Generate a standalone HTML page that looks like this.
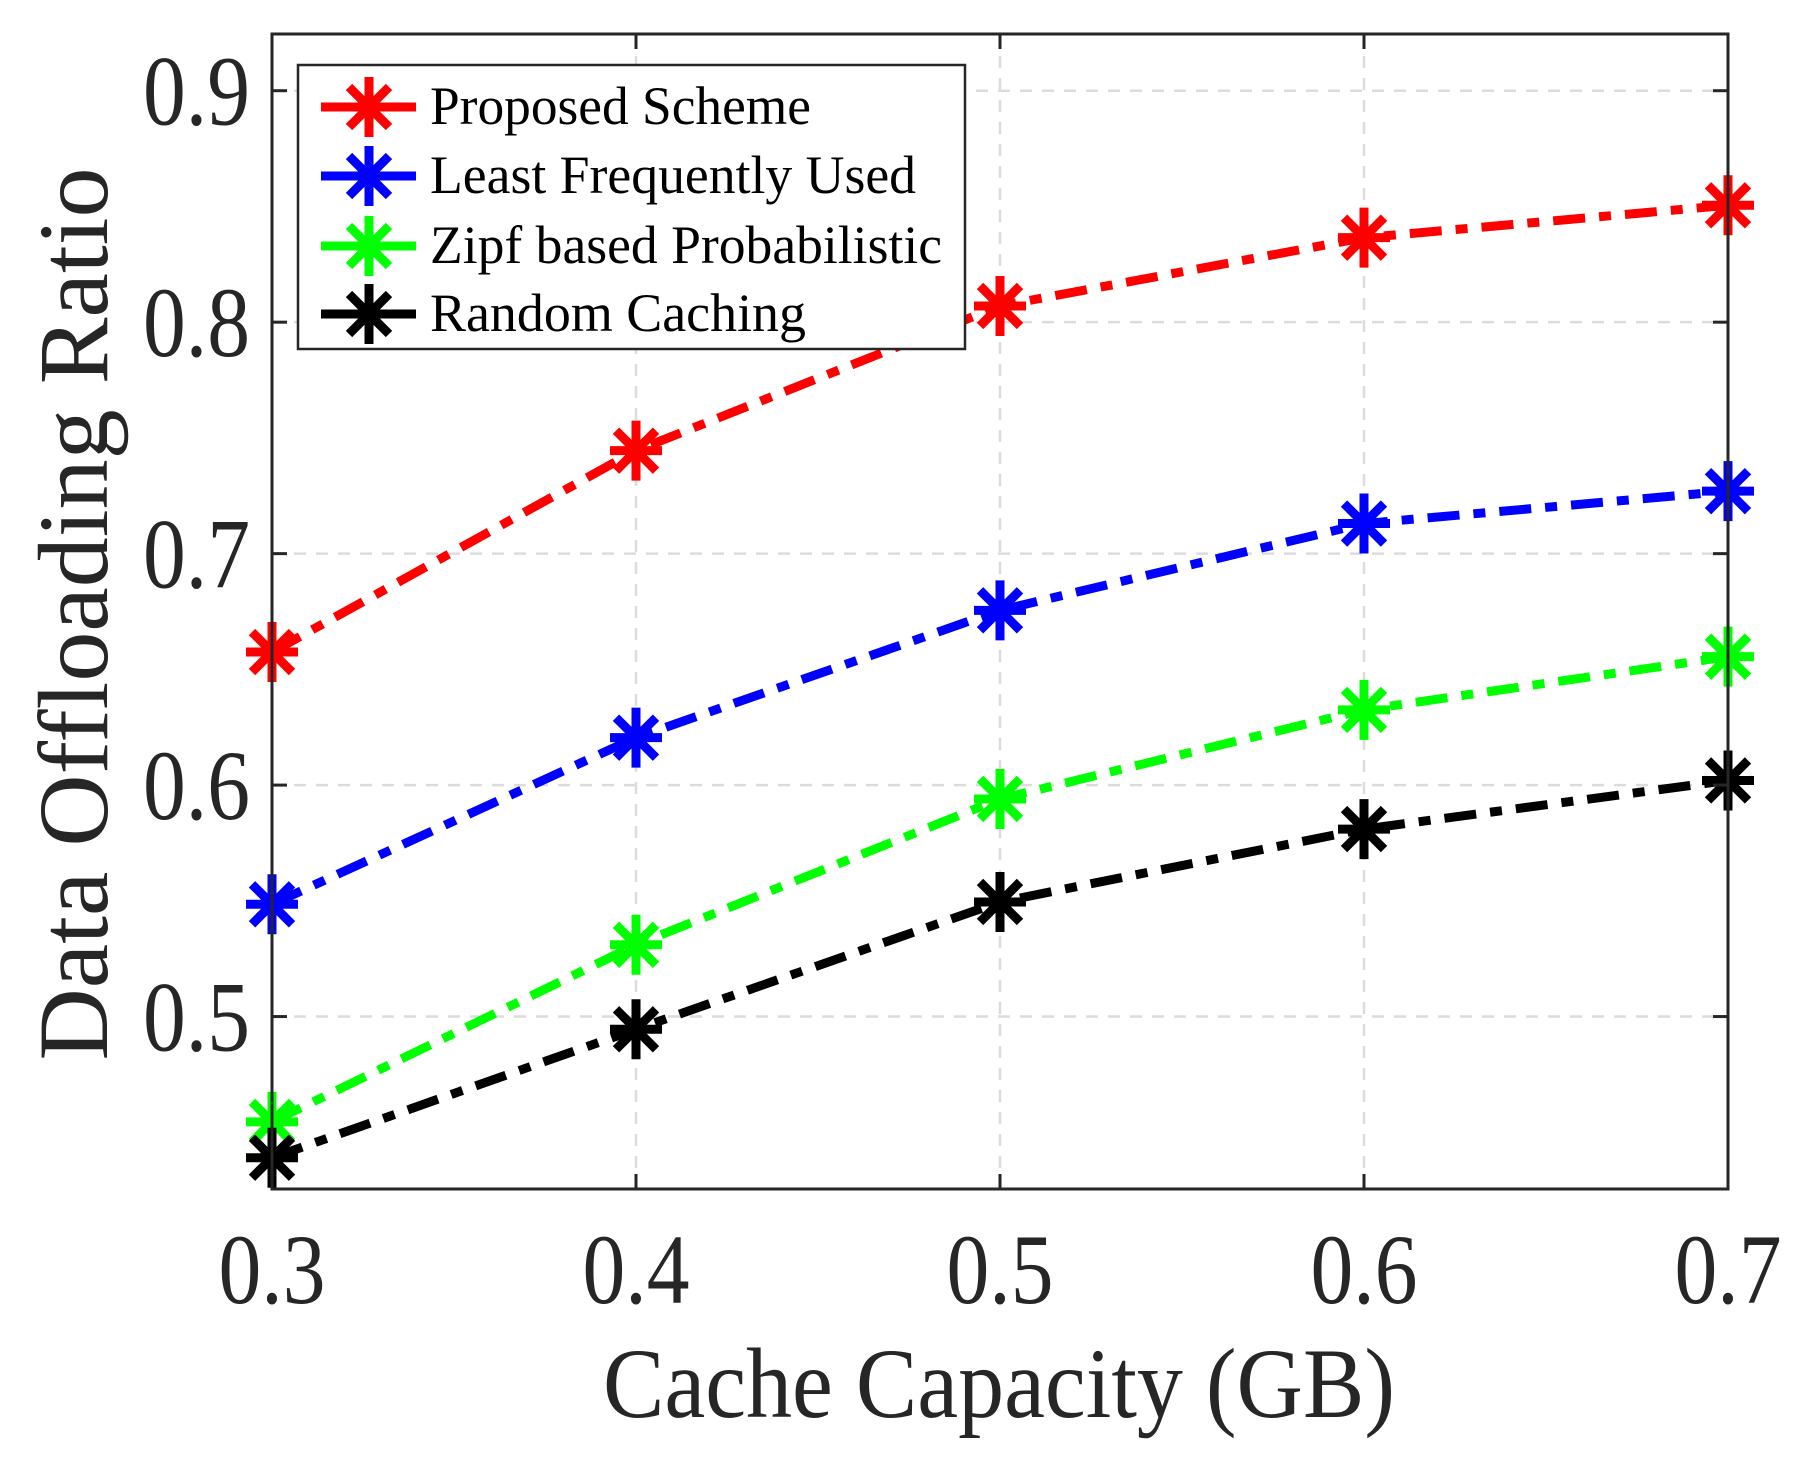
<!DOCTYPE html>
<html><head><meta charset="utf-8"><style>
html,body{margin:0;padding:0;background:#fff;}
svg{display:block;}
text{font-family:"Liberation Serif","Times New Roman",serif;fill:#262626;}
</style></head><body>
<svg id="chart" width="1812" height="1470" viewBox="0 0 1812 1470" xmlns="http://www.w3.org/2000/svg">
<g id="grid"></g>
<g id="series"></g>
<rect x="272" y="34" width="1456" height="1155" fill="none" stroke="#262626" stroke-width="3"/>
<g id="ticks"></g>
<text x="81" y="614" font-size="100" text-anchor="middle" transform="rotate(-90 81 614)" dy="26" textLength="893" lengthAdjust="spacingAndGlyphs">Data Offloading Ratio</text>
<text x="999" y="1417" font-size="100" text-anchor="middle" textLength="792" lengthAdjust="spacingAndGlyphs">Cache Capacity (GB)</text>
<g id="legend">
<rect x="298" y="65" width="667" height="284" fill="#fff" stroke="#262626" stroke-width="2.5"/>
</g>
</svg>
<script>
const categories=[0.3,0.4,0.5,0.6,0.7];
const proposed=[0.6575,0.7445,0.807,0.8365,0.8505];
const lfu=[0.5485,0.6205,0.6755,0.713,0.727];
const zipf=[0.4545,0.531,0.594,0.6325,0.6555];
const randomCaching=[0.439,0.4945,0.5495,0.581,0.602];
const seriesNames=["Proposed Scheme","Least Frequently Used","Zipf based Probabilistic","Random Caching"];
const seriesColors=["#ff0000","#0000ff","#00ff00","#000000"];
const yTicks=[0.5,0.6,0.7,0.8,0.9];
const xTickLabels=["0.3","0.4","0.5","0.6","0.7"];
const yTickLabels=["0.5","0.6","0.7","0.8","0.9"];

const NS="http://www.w3.org/2000/svg";
const L=272,R=1728,T=34,B=1189;
const xmin=0.3,xmax=0.7,ymin=0.4255,ymax=0.9245;
function xs(v){return L+(v-xmin)/(xmax-xmin)*(R-L);}
function ys(v){return B-(v-ymin)/(ymax-ymin)*(B-T);}
function mk(tag,attrs,parent){const e=document.createElementNS(NS,tag);for(const k in attrs)e.setAttribute(k,attrs[k]);parent.appendChild(e);return e;}
const grid=document.getElementById('grid'),ticks=document.getElementById('ticks'),sg=document.getElementById('series'),lg=document.getElementById('legend');

categories.forEach((c,i)=>{
  const x=xs(c);
  const g=mk('line',{x1:x,y1:T,x2:x,y2:B,stroke:'#dcdcdc','stroke-width':2.5,'stroke-dasharray':'12 10'},grid);
  
  
  const t1=mk('line',{x1:x,y1:B,x2:x,y2:B-15,stroke:'#262626','stroke-width':3},ticks);
  
  
  const t2=mk('line',{x1:x,y1:T,x2:x,y2:T+15,stroke:'#262626','stroke-width':3},ticks);
  
  
  const tx=mk('text',{x:x,y:1303,'font-size':100,'text-anchor':'middle',textLength:107,lengthAdjust:'spacingAndGlyphs'},ticks);
  tx.textContent=xTickLabels[i];
  
  
});
yTicks.forEach((v,i)=>{
  const y=ys(v);
  const g=mk('line',{x1:L,y1:y,x2:R,y2:y,stroke:'#dcdcdc','stroke-width':2.5,'stroke-dasharray':'12 10'},grid);
  
  
  const t1=mk('line',{x1:L,y1:y,x2:L+15,y2:y,stroke:'#262626','stroke-width':3},ticks);
  
  
  const t2=mk('line',{x1:R,y1:y,x2:R-15,y2:y,stroke:'#262626','stroke-width':3},ticks);
  
  
  const tx=mk('text',{x:250,y:y+34,'font-size':100,'text-anchor':'end',textLength:107,lengthAdjust:'spacingAndGlyphs'},ticks);
  tx.textContent=yTickLabels[i];
  
  
});
function star(cx,cy,color,parent){
  const g=mk('g',{stroke:color,'stroke-width':9,'stroke-linecap':'butt'},parent);
  const r=26,d=20;
  mk('line',{x1:cx-r,y1:cy,x2:cx+r,y2:cy},g);
  mk('line',{x1:cx,y1:cy-r-4,x2:cx,y2:cy+r+4},g);
  mk('line',{x1:cx-d,y1:cy-d,x2:cx+d,y2:cy+d},g);
  mk('line',{x1:cx-d,y1:cy+d,x2:cx+d,y2:cy-d},g);
  return g;
}
const allSeries=[proposed,lfu,zipf,randomCaching];
const keys=['proposed','lfu','zipf','random'];
allSeries.forEach((vals,s)=>{
  const pts=vals.map((v,i)=>xs(categories[i])+','+ys(v)).join(' ');
  const pl=mk('polyline',{points:pts,fill:'none',stroke:seriesColors[s],'stroke-width':9,'stroke-dasharray':'32 14 12 14'},sg);
  
  
  vals.forEach((v,i)=>{
    const m=star(xs(categories[i]),ys(v),seriesColors[s],sg);
    
    
  });
});
const legY=[107,176,246,314];
const legW=[381,486,512,376];
seriesNames.forEach((n,s)=>{
  const y=legY[s];
  const g=mk('g',{},lg);
  
  
  mk('line',{x1:321,y1:y,x2:416,y2:y,stroke:seriesColors[s],'stroke-width':9,'stroke-dasharray':'60 9 26'},g);
  star(369,y,seriesColors[s],g);
  const t=mk('text',{x:430,y:y+17,'font-size':54,textLength:legW[s],lengthAdjust:'spacingAndGlyphs',style:'fill:#000'},g);
  t.textContent=n;
});
</script>
</body></html>
